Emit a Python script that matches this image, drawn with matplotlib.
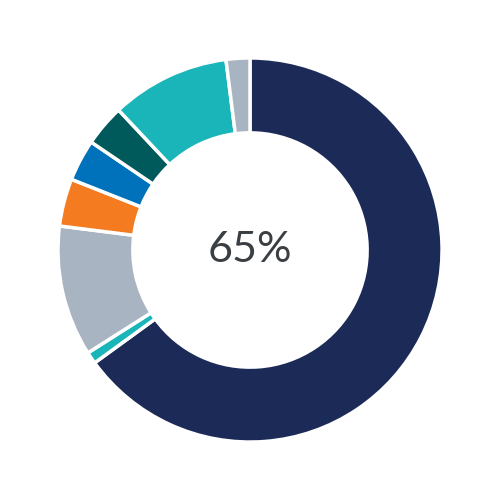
import matplotlib
matplotlib.use("Agg")
import matplotlib.pyplot as plt

labels = ["A", "B", "C", "D", "E", "F", "G", "H"]
values = [65, 1, 11, 4, 3.5, 3.5, 10, 2]
colors = ["#1c2a58", "#1ab5b9", "#a9b4c2", "#f47b20", "#0072bb", "#005a5b", "#1ab5b9", "#a9b4c2"]
center_text = "65%"

fig = plt.figure(figsize=(5, 5), dpi=100)
ax = fig.add_axes([0.114, 0.114, 0.772, 0.772])
ax.pie(values, colors=colors, startangle=90, counterclock=False,
       wedgeprops=dict(width=0.39, edgecolor="white", linewidth=2.5))
ax.set_xlim(-1.005, 1.005)
ax.set_ylim(-1.005, 1.005)
ax.text(0, 0, center_text, ha="center", va="center", fontsize=31,
        color="#3a3f44", family="Lato")
ax.set_aspect("equal")
fig.savefig("out.png", dpi=100, facecolor="white")
